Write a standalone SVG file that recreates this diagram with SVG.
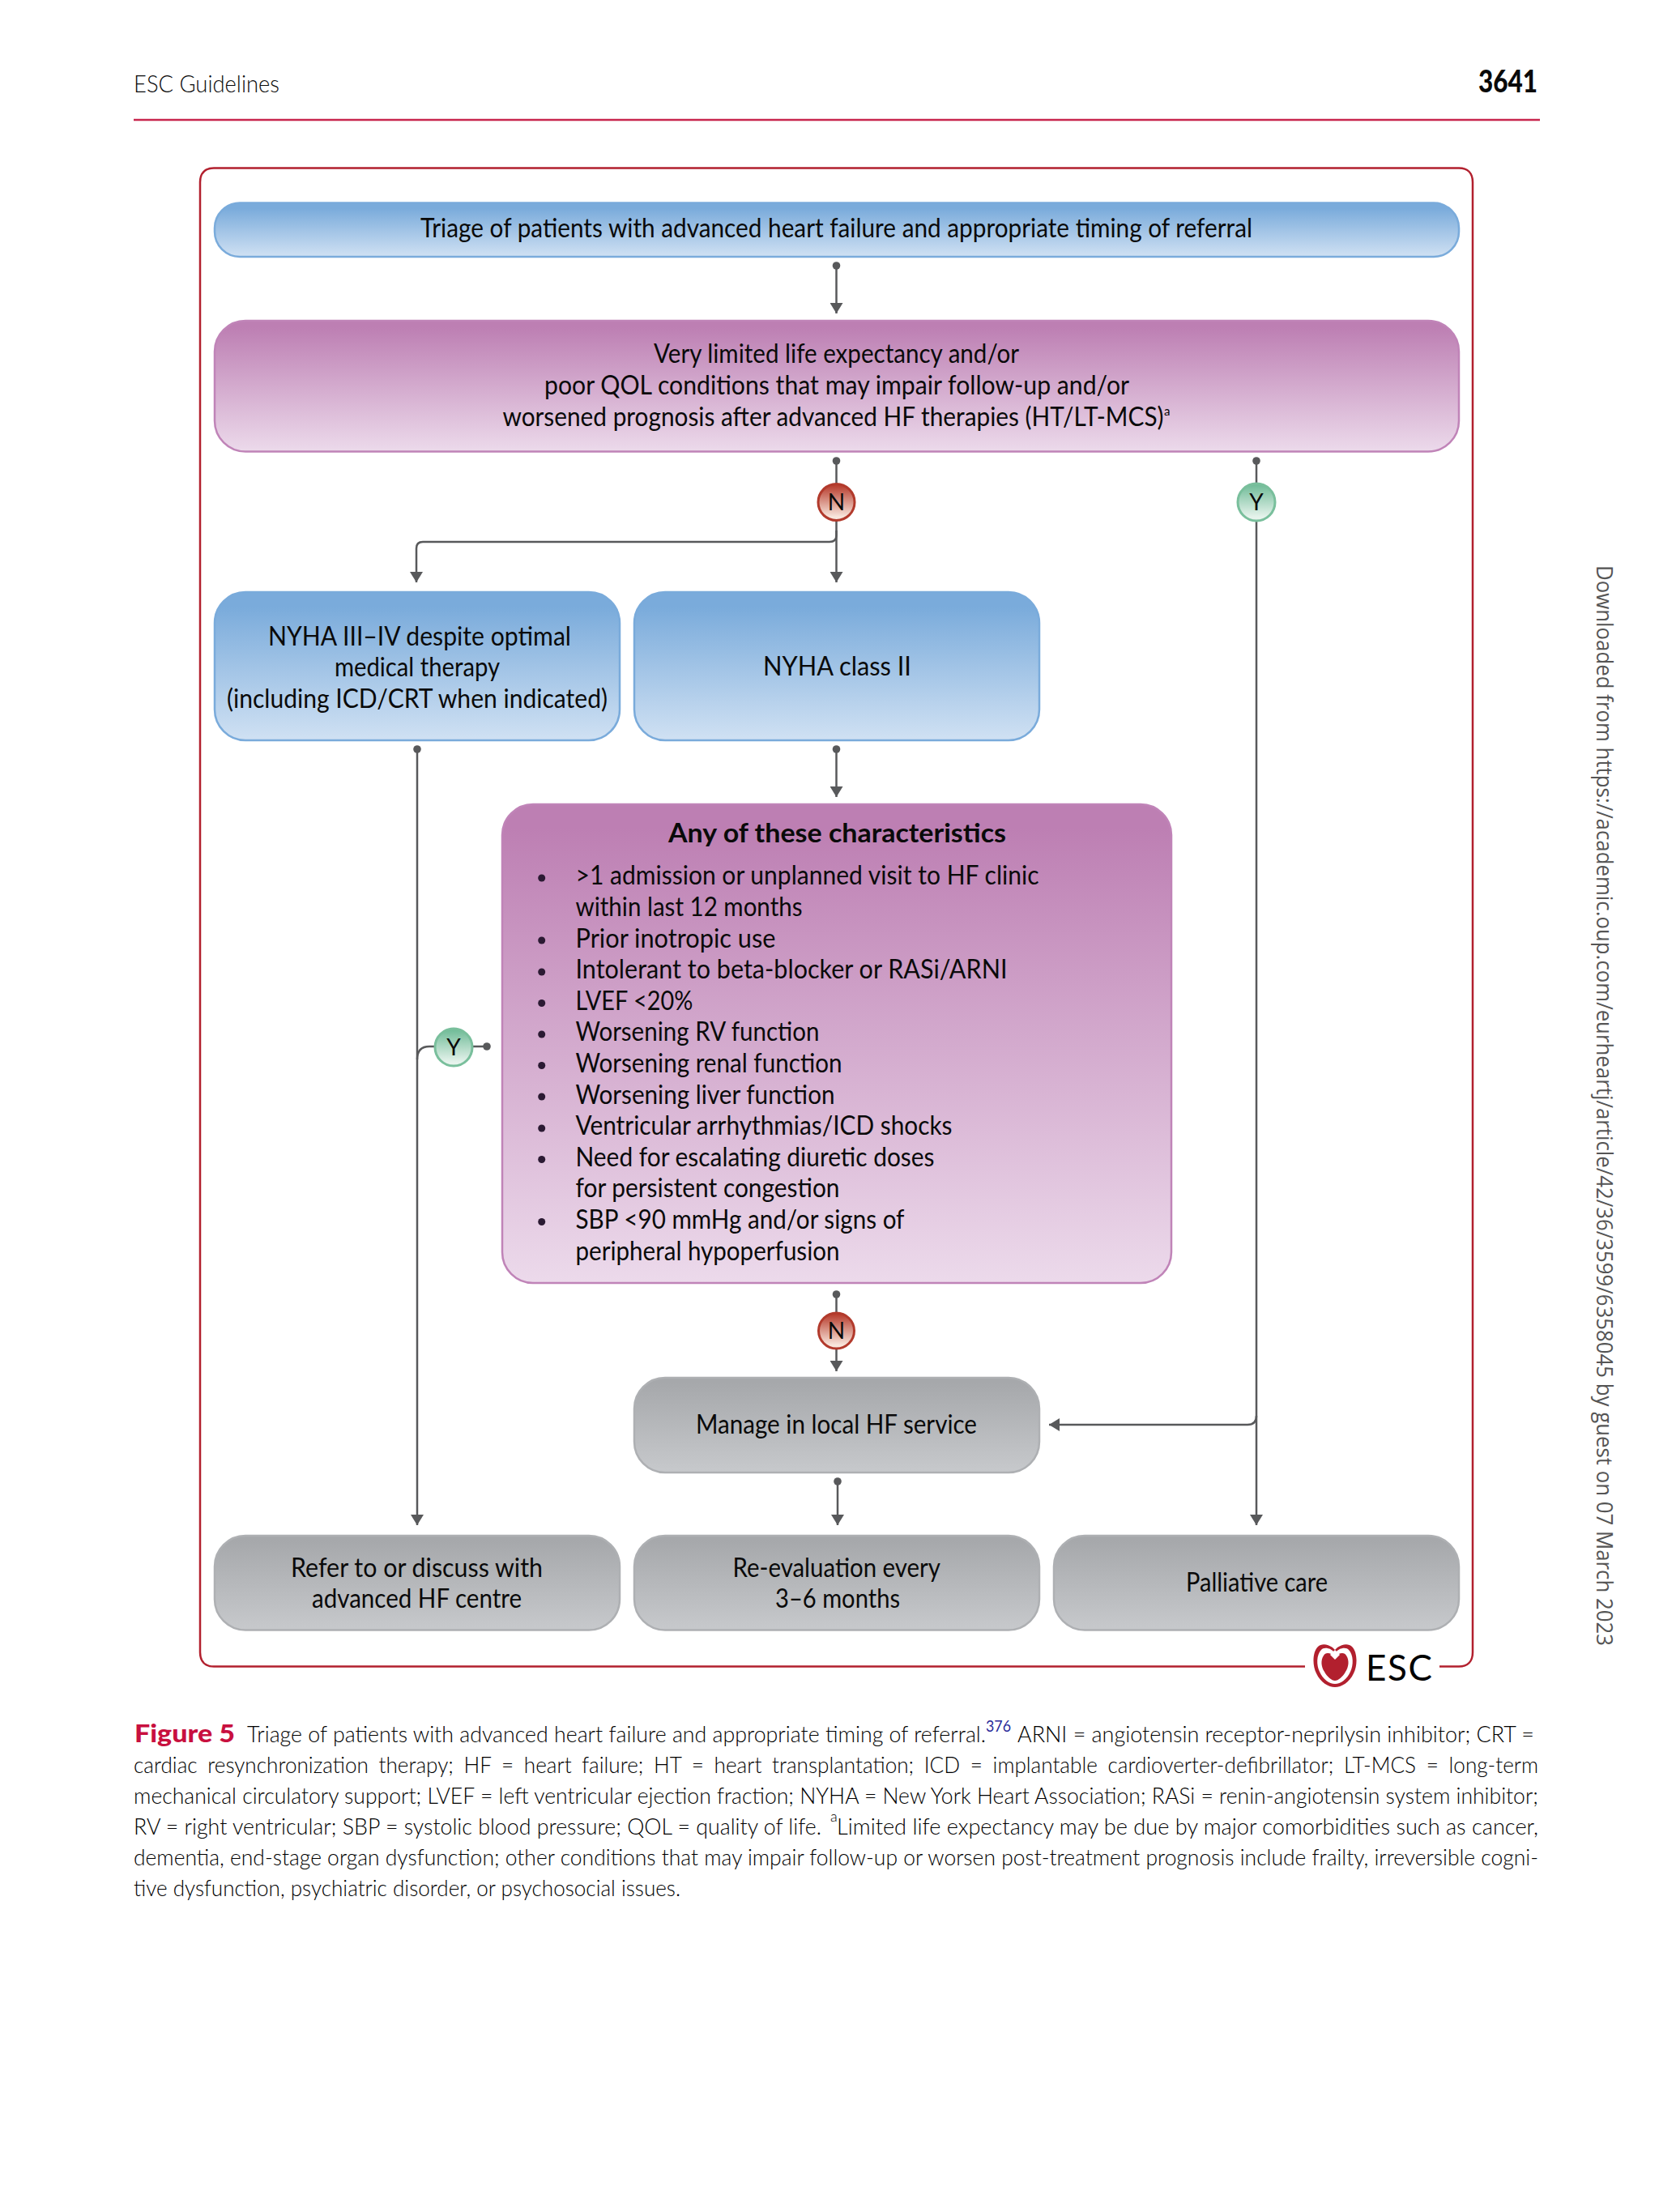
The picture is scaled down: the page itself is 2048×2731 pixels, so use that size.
<svg xmlns="http://www.w3.org/2000/svg" width="2048" height="2731" viewBox="0 0 2048 2731">
<style>
text{font-family:Lato,"Liberation Sans",sans-serif;fill:#0a0a0a;font-size:32px}
.cap{font-size:28px;font-weight:300;fill:#000}
.c{stroke:#58595b;stroke-width:2.5;fill:none}
.m{marker-end:url(#arrow)}
.d{marker-start:url(#dot)}
.blue{fill:url(#gb);stroke:#7aabdb;stroke-width:2.5}
.pur{fill:url(#gp);stroke:#c084b8;stroke-width:2.5}
.gry{fill:url(#gg);stroke:#aeb0b3;stroke-width:2.5}
.no{fill:url(#gn);stroke:#b23a2c;stroke-width:3}
.ye{fill:url(#gy);stroke:#79bf9c;stroke-width:3}
.bl{fill:#2b1a33}
</style>
<defs>
<linearGradient id="gb" x1="0" y1="0" x2="0" y2="1"><stop offset="0.1" stop-color="#7aabdb"/><stop offset="1" stop-color="#d0e1f3"/></linearGradient>
<linearGradient id="gp" x1="0" y1="0" x2="0" y2="1"><stop offset="0.05" stop-color="#bd7fb3"/><stop offset="1" stop-color="#ecdaeb"/></linearGradient>
<linearGradient id="gg" x1="0" y1="0" x2="0" y2="1"><stop offset="0.05" stop-color="#a6a8ab"/><stop offset="1" stop-color="#c7c9cc"/></linearGradient>
<linearGradient id="gn" x1="0" y1="0" x2="0" y2="1"><stop offset="0.05" stop-color="#b83f30"/><stop offset="0.9" stop-color="#f8e6dc"/></linearGradient>
<linearGradient id="gy" x1="0" y1="0" x2="0" y2="1"><stop offset="0.05" stop-color="#73bd9a"/><stop offset="0.9" stop-color="#e6f3ec"/></linearGradient>
<marker id="arrow" markerUnits="userSpaceOnUse" markerWidth="17" markerHeight="16" refX="13" refY="8" orient="auto"><path d="M0 0L13 8L0 16Z" fill="#58595b"/></marker>
<marker id="dot" markerUnits="userSpaceOnUse" markerWidth="12" markerHeight="12" refX="6" refY="6"><circle cx="6" cy="6" r="4.8" fill="#58595b"/></marker>
</defs>
<rect width="2048" height="2731" fill="#fff"/>
<g id="page-header">
<text x="165" y="113.5" style="font-size:29px;font-weight:300" textLength="180" lengthAdjust="spacingAndGlyphs">ESC Guidelines</text>
<text x="1825" y="114" style="font-size:37px;font-weight:900" textLength="73" lengthAdjust="spacingAndGlyphs">3641</text>
<path d="M165 148H1901" stroke="#c8264e" stroke-width="2.5" fill="none"/>
</g>
<g id="frame"><path d="M1611 2057.5H264C253 2057.5 247 2051 247 2040V225C247 214 253 207.5 264 207.5H1801C1812 207.5 1818 214 1818 225V2040C1818 2051 1812 2057.5 1801 2057.5H1777" fill="none" stroke="#b2202e" stroke-width="2.5"/></g>
<g id="connectors">
<path class="c m d" d="M1032.5 328V387"/>
<path class="c m d" d="M1032.5 569V719"/>
<path class="c m" d="M1032.5 655V661Q1032.5 669 1024 669H522Q514 669 514 677V719"/>
<path class="c m d" d="M1551 569V1883"/>
<path class="c m" d="M1551 1748Q1551 1759 1540 1759H1295"/>
<path class="c m d" d="M1032.5 925V984"/>
<path class="c m d" d="M515 925V1883"/>
<path class="c d" d="M601 1292H530Q515 1292 515 1308"/>
<path class="c m d" d="M1032.5 1598V1693"/>
<path class="c m d" d="M1034 1829V1883"/>
</g>
<g id="node-title">
<rect class="blue" x="265" y="250.5" width="1536" height="66.5" rx="31"/>
<text x="519" y="292.5" textLength="1027" lengthAdjust="spacingAndGlyphs">Triage of patients with advanced heart failure and appropriate timing of referral</text>
</g>
<g id="node-expectancy">
<rect class="pur" x="265" y="396" width="1536" height="161.5" rx="38"/>
<text x="807" y="447.5" textLength="451" lengthAdjust="spacingAndGlyphs">Very limited life expectancy and/or</text>
<text x="672" y="486.5" textLength="722" lengthAdjust="spacingAndGlyphs">poor QOL conditions that may impair follow-up and/or</text>
<text x="620.5" y="525.5" textLength="816" lengthAdjust="spacingAndGlyphs">worsened prognosis after advanced HF therapies (HT/LT-MCS)</text>
<text x="1437" y="513" style="font-size:15px">a</text>
</g>
<g id="node-nyha34">
<rect class="blue" x="265" y="731" width="500" height="183" rx="38"/>
<text x="331" y="797" textLength="374" lengthAdjust="spacingAndGlyphs">NYHA III–IV despite optimal</text>
<text x="413" y="835" textLength="204" lengthAdjust="spacingAndGlyphs">medical therapy</text>
<text x="280" y="874" textLength="470" lengthAdjust="spacingAndGlyphs">(including ICD/CRT when indicated)</text>
</g>
<g id="node-nyha2">
<rect class="blue" x="783" y="731" width="500" height="183" rx="38"/>
<text x="942" y="833.5" textLength="183" lengthAdjust="spacingAndGlyphs">NYHA class II</text>
</g>
<g id="node-characteristics">
<rect class="pur" x="620" y="993" width="826" height="591" rx="38"/>
<text x="825" y="1039.5" style="font-weight:700" textLength="417" lengthAdjust="spacingAndGlyphs">Any of these characteristics</text>
<circle class="bl" cx="668.7" cy="1084" r="4.5"/>
<circle class="bl" cx="668.7" cy="1161" r="4.5"/>
<circle class="bl" cx="668.7" cy="1200" r="4.5"/>
<circle class="bl" cx="668.7" cy="1238.5" r="4.5"/>
<circle class="bl" cx="668.7" cy="1277" r="4.5"/>
<circle class="bl" cx="668.7" cy="1315.5" r="4.5"/>
<circle class="bl" cx="668.7" cy="1354" r="4.5"/>
<circle class="bl" cx="668.7" cy="1393" r="4.5"/>
<circle class="bl" cx="668.7" cy="1431.5" r="4.5"/>
<circle class="bl" cx="668.7" cy="1508.5" r="4.5"/>
<text x="710.5" y="1092" textLength="572" lengthAdjust="spacingAndGlyphs">&gt;1 admission or unplanned visit to HF clinic</text>
<text x="710.5" y="1130.5" textLength="280" lengthAdjust="spacingAndGlyphs">within last 12 months</text>
<text x="710.5" y="1169.5" textLength="247" lengthAdjust="spacingAndGlyphs">Prior inotropic use</text>
<text x="710.5" y="1208" textLength="533" lengthAdjust="spacingAndGlyphs">Intolerant to beta-blocker or RASi/ARNI</text>
<text x="710.5" y="1246.5" textLength="145" lengthAdjust="spacingAndGlyphs">LVEF &lt;20%</text>
<text x="710.5" y="1285" textLength="301" lengthAdjust="spacingAndGlyphs">Worsening RV function</text>
<text x="710.5" y="1323.5" textLength="329" lengthAdjust="spacingAndGlyphs">Worsening renal function</text>
<text x="710.5" y="1362.5" textLength="320" lengthAdjust="spacingAndGlyphs">Worsening liver function</text>
<text x="710.5" y="1401" textLength="465" lengthAdjust="spacingAndGlyphs">Ventricular arrhythmias/ICD shocks</text>
<text x="710.5" y="1439.5" textLength="443" lengthAdjust="spacingAndGlyphs">Need for escalating diuretic doses</text>
<text x="710.5" y="1478" textLength="326" lengthAdjust="spacingAndGlyphs">for persistent congestion</text>
<text x="710.5" y="1516.5" textLength="406" lengthAdjust="spacingAndGlyphs">SBP &lt;90 mmHg and/or signs of</text>
<text x="710.5" y="1555.5" textLength="326" lengthAdjust="spacingAndGlyphs">peripheral hypoperfusion</text>
</g>
<g id="node-manage">
<rect class="gry" x="783" y="1701" width="500" height="117" rx="38"/>
<text x="859" y="1770" textLength="347" lengthAdjust="spacingAndGlyphs">Manage in local HF service</text>
</g>
<g id="node-refer">
<rect class="gry" x="265" y="1896" width="500" height="116.5" rx="38"/>
<text x="359" y="1946.5" textLength="311" lengthAdjust="spacingAndGlyphs">Refer to or discuss with</text>
<text x="385" y="1984.5" textLength="259" lengthAdjust="spacingAndGlyphs">advanced HF centre</text>
</g>
<g id="node-reevaluation">
<rect class="gry" x="783" y="1896" width="500" height="116.5" rx="38"/>
<text x="904.5" y="1946.5" textLength="256.5" lengthAdjust="spacingAndGlyphs">Re-evaluation every</text>
<text x="957" y="1984.5" textLength="154" lengthAdjust="spacingAndGlyphs">3–6 months</text>
</g>
<g id="node-palliative">
<rect class="gry" x="1301" y="1896" width="500" height="116.5" rx="38"/>
<text x="1464" y="1964.5" textLength="175" lengthAdjust="spacingAndGlyphs">Palliative care</text>
</g>
<g id="badge-n1"><circle class="no" cx="1032.5" cy="620" r="22.5"/><text x="1032.5" y="630" text-anchor="middle" style="font-size:28px">N</text></g>
<g id="badge-y1"><circle class="ye" cx="1551" cy="620" r="23"/><text x="1551" y="630" text-anchor="middle" style="font-size:28px">Y</text></g>
<g id="badge-y2"><circle class="ye" cx="560" cy="1293" r="23"/><text x="560" y="1303" text-anchor="middle" style="font-size:28px">Y</text></g>
<g id="badge-n2"><circle class="no" cx="1032.5" cy="1643" r="22"/><text x="1032.5" y="1653" text-anchor="middle" style="font-size:28px">N</text></g>
<g id="esc-logo">
<path d="M1648 2037C1642 2030 1632 2028 1627 2033C1620 2040 1620 2056 1625 2066C1630 2077 1640 2083 1648 2083C1656 2083 1666 2077 1671 2066C1676 2056 1676 2040 1669 2033C1664 2028 1654 2030 1648 2037Z" fill="#b2202e"/>
<path d="M1648 2041C1643 2034 1634 2033 1631 2037C1625 2043 1625 2056 1629 2064C1633 2073 1641 2079 1648 2079C1655 2079 1663 2073 1667 2064C1671 2056 1671 2043 1665 2037C1662 2033 1653 2034 1648 2041Z" fill="#fff"/>
<path d="M1648 2045C1642 2040 1636 2040 1634 2044C1630 2050 1631 2058 1635 2064C1638 2070 1644 2075 1648 2075C1652 2075 1658 2070 1661 2064C1665 2058 1666 2050 1662 2044C1660 2040 1654 2040 1648 2045Z" fill="#b2202e"/>
<path d="M1648 2037L1654 2043L1648 2049L1642 2043Z" fill="#fff"/>
<text x="1686" y="2075" style="font-size:44px;font-weight:400;fill:#000" textLength="82" lengthAdjust="spacing">ESC</text>
</g>
<g id="caption">
<text x="166" y="2150.5" style="font-size:30px;font-weight:900;fill:#c8103f" textLength="124" lengthAdjust="spacingAndGlyphs">Figure 5</text>
<text class="cap" x="305" y="2150.5" textLength="912" lengthAdjust="spacingAndGlyphs">Triage of patients with advanced heart failure and appropriate timing of referral.</text>
<text x="1217" y="2138" style="font-size:20px;font-weight:400;fill:#2a2a9a" textLength="31" lengthAdjust="spacingAndGlyphs">376</text>
<text class="cap" x="1256" y="2150.5" textLength="638" lengthAdjust="spacingAndGlyphs">ARNI = angiotensin receptor-neprilysin inhibitor; CRT =</text>
<text class="cap" x="165" y="2188.5" textLength="1734" lengthAdjust="spacingAndGlyphs" style="word-spacing:6px">cardiac resynchronization therapy; HF = heart failure; HT = heart transplantation; ICD = implantable cardioverter-defibrillator; LT-MCS = long-term</text>
<text class="cap" x="165" y="2226.5" textLength="1734" lengthAdjust="spacingAndGlyphs">mechanical circulatory support; LVEF = left ventricular ejection fraction; NYHA = New York Heart Association; RASi = renin-angiotensin system inhibitor;</text>
<text class="cap" x="165" y="2264.5" textLength="849" lengthAdjust="spacingAndGlyphs">RV = right ventricular; SBP = systolic blood pressure; QOL = quality of life.</text>
<text x="1025" y="2249" style="font-size:18px;font-weight:300;fill:#000">a</text>
<text class="cap" x="1033" y="2264.5" textLength="866" lengthAdjust="spacingAndGlyphs">Limited life expectancy may be due by major comorbidities such as cancer,</text>
<text class="cap" x="165" y="2302.5" textLength="1734" lengthAdjust="spacingAndGlyphs">dementia, end-stage organ dysfunction; other conditions that may impair follow-up or worsen post-treatment prognosis include frailty, irreversible cogni-</text>
<text class="cap" x="165" y="2340.5" textLength="675" lengthAdjust="spacingAndGlyphs">tive dysfunction, psychiatric disorder, or psychosocial issues.</text>
</g>
<g id="sidebar">
<text transform="translate(1971 698) rotate(90)" style="font-family:'Open Sans','Noto Sans',sans-serif;font-size:27px;fill:#555" textLength="1334" lengthAdjust="spacingAndGlyphs">Downloaded from https://academic.oup.com/eurheartj/article/42/36/3599/6358045 by guest on 07 March 2023</text>
</g>
</svg>
